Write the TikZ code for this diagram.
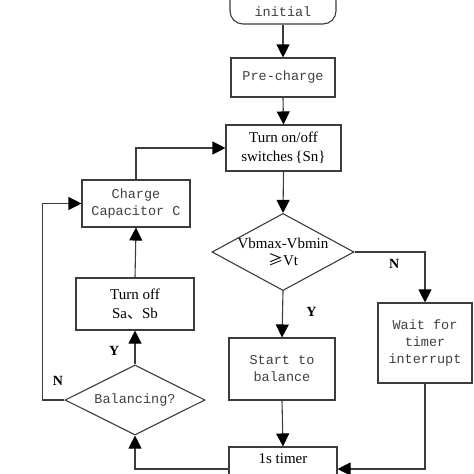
\documentclass[tikz,border=0pt]{standalone}
\usepackage{fontspec}
\setmainfont{Liberation Serif}
\newfontfamily\monofont{Liberation Mono}
\newfontfamily\cjk{Noto Sans CJK SC}
\usepackage{tikz}
\usetikzlibrary{shapes.geometric, arrows.meta, calc}

\definecolor{linegray}{HTML}{3C3C3C}
\definecolor{textgray}{HTML}{404040}

\tikzset{
    flowline/.style={draw=linegray, line width=1.1pt},
    flowarrow/.style={flowline, -{Triangle[length=13pt, width=13pt, fill=black, color=black]}},
    procbox/.style={rectangle, flowline, inner sep=2pt, align=center},
    monotext/.style={font=\monofont\fontsize{13.5}{17}\selectfont, text=textgray},
    romantext/.style={font=\fontsize{15}{19}\selectfont, text=black},
    decision/.style={diamond, flowline, inner sep=0pt, align=center},
    branchlabel/.style={font=\bfseries\fontsize{14}{16}\selectfont}
}

\begin{document}
\begin{tikzpicture}[x=1pt, y=-1pt]
    \useasboundingbox (0,0) rectangle (474,474);

    % process boxes
    \node[procbox, monotext, rounded corners=13pt, minimum width=106pt,
          text height=26pt, text depth=6pt] (init) at (283,6) {initial};
    \node[procbox, monotext, minimum width=104pt, minimum height=39pt] (precharge) at (283,77.5) {Pre-charge};
    \node[procbox, romantext, minimum width=115pt, minimum height=46pt] (switches) at (283.5,148) {Turn on/off\\switches\,\{Sn\}};
    \node[procbox, monotext, minimum width=108pt, minimum height=47pt] (charge) at (136,203.5) {Charge\\Capacitor C};
    \node[procbox, romantext, minimum width=118pt, minimum height=52pt] (turnoff) at (135,304) {Turn off\\Sa{\cjk 、}Sb};
    \node[procbox, monotext, minimum width=106pt, minimum height=62pt] (startbal) at (282,369) {Start to\\balance};
    \node[procbox, monotext, minimum width=94pt, minimum height=80pt] (wait) at (425,343) {Wait for\\timer\\interrupt};
    \node[procbox, romantext, minimum width=108pt,
          text height=14pt, text depth=26pt] (timer) at (283,469) {1s timer};

    % decisions
    \node[decision, romantext, minimum width=142pt, minimum height=77pt, aspect=1.84] (vcheck) at (283,252) {Vbmax-Vbmin\\[-2pt]{\cjk ≥}Vt};
    \node[decision, monotext, minimum width=140pt, minimum height=70pt, aspect=2] (balancing) at (135,400) {Balancing?};

    % main flow
    \draw[flowarrow] (init.south) -- (precharge.north);
    \draw[flowarrow] (precharge.south) -- (switches.north);
    \draw[flowarrow] (switches.south) -- (vcheck.north);
    \draw[flowarrow] (vcheck.south) -- (startbal.north) node[branchlabel, pos=0.45, right=20pt] {Y};
    \draw[flowarrow] (vcheck.east) -| (wait.north) node[branchlabel, pos=0.62, left=22pt] {N};
    \draw[flowarrow] (startbal.south) -- (timer.north);
    \draw[flowarrow] (wait.south) |- (timer.east);

    % balancing loop
    \draw[flowarrow] (timer.west) -| (balancing.south);
    \draw[flowarrow] (balancing.north) -- (turnoff.south) node[branchlabel, pos=0.4, left=12pt] {Y};
    \draw[flowarrow] (turnoff.north) -- (charge.south);
    \draw[flowarrow] (charge.north) |- (switches.west);
    \draw[flowarrow] (balancing.west) -- ++(-22,0) coordinate (leftturn) |- (charge.west);
    \node[branchlabel] (nlabel) at (58,381) {N};
\end{tikzpicture}
\end{document}
